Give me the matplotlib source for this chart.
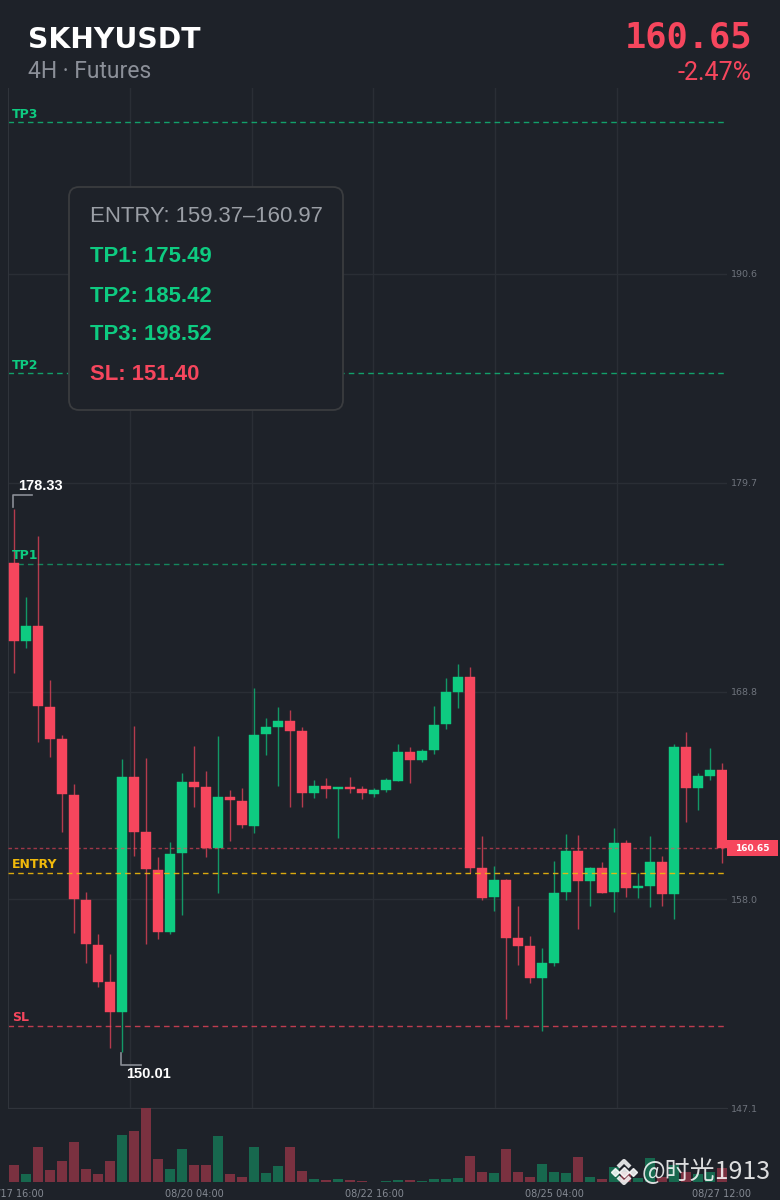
import matplotlib
matplotlib.use("Agg")
import matplotlib.pyplot as plt
from matplotlib.patches import FancyBboxPatch, Rectangle
import numpy as np

# ---- data ----
symbol = "SKHYUSDT"
subtitle = "4H · Futures"
last_price = 160.65
change_pct = -2.47

opens = [175.51, 171.46, 172.24, 168.03, 166.33, 163.42, 157.94, 155.60, 153.65, 152.12,
         164.35, 161.51, 159.51, 156.29, 160.38, 164.10, 163.84, 160.67, 163.33, 163.12,
         161.82, 166.59, 166.95, 167.28, 166.78, 163.51, 163.89, 163.73, 163.84, 163.73,
         163.47, 163.68, 164.17, 165.68, 165.25, 165.77, 167.12, 168.81, 169.56, 159.60,
         158.08, 158.99, 155.95, 155.57, 153.89, 154.64, 158.35, 160.50, 158.95, 159.60,
         158.35, 160.90, 158.55, 158.69, 159.91, 158.24, 165.94, 163.77, 164.43, 164.73]
highs = [178.33, 173.75, 176.93, 169.42, 166.55, 163.98, 158.35, 156.16, 155.11, 165.28,
         167.02, 165.37, 160.20, 160.95, 164.55, 165.98, 164.67, 166.50, 163.68, 163.77,
         168.99, 167.42, 168.03, 167.86, 166.99, 164.20, 164.32, 163.86, 164.38, 163.89,
         163.77, 164.29, 166.07, 165.91, 165.81, 168.06, 169.51, 170.26, 170.08, 161.28,
         159.72, 159.02, 157.63, 156.08, 155.46, 160.00, 161.39, 161.34, 159.65, 159.91,
         161.68, 161.07, 159.37, 161.28, 160.24, 166.07, 166.73, 164.55, 165.86, 165.08]
lows = [169.80, 171.11, 166.20, 165.42, 161.51, 156.24, 154.64, 153.42, 150.21, 150.01,
        160.26, 155.63, 155.89, 156.20, 157.16, 162.81, 160.20, 158.33, 161.04, 161.69,
        161.46, 165.51, 163.91, 162.78, 162.78, 163.25, 163.25, 161.19, 163.51, 163.20,
        163.33, 163.60, 164.17, 164.03, 165.13, 165.55, 166.86, 167.98, 159.37, 157.94,
        157.39, 151.74, 154.55, 153.60, 151.13, 154.50, 157.94, 156.42, 157.65, 158.30,
        157.30, 158.08, 158.03, 157.56, 157.65, 156.94, 162.04, 162.64, 164.20, 159.88]
closes = [171.46, 172.24, 168.08, 166.34, 163.46, 157.98, 155.63, 153.68, 152.12, 164.35,
          161.51, 159.55, 156.29, 160.34, 164.10, 163.85, 160.67, 163.33, 163.16, 161.84,
          166.55, 166.95, 167.28, 166.78, 163.51, 163.89, 163.73, 163.84, 163.73, 163.51,
          163.68, 164.20, 165.68, 165.25, 165.73, 167.07, 168.81, 169.56, 159.63, 158.06,
          158.99, 155.95, 155.57, 153.89, 154.64, 158.33, 160.50, 158.95, 159.60, 158.33,
          160.90, 158.55, 158.69, 159.91, 158.26, 165.94, 163.77, 164.43, 164.73, 160.65]
volumes = [17, 8, 34.7, 12, 21, 40, 12.7, 8, 21, 47,
           51, 74, 22.7, 12.7, 32.7, 17, 17, 46, 8.3, 5.3,
           34.7, 9.3, 16.3, 35.3, 11.3, 3.3, 1.7, 3, 1.7, 1,
           0.5, 1, 2, 2, 1, 2.7, 2.7, 4, 26.3, 9.7,
           9.3, 32.7, 9.7, 5.3, 18, 10, 9.3, 25.3, 4.7, 3,
           14.7, 10, 4, 24, 5, 17, 10, 8, 10, 14]

time_tick_idx = [0, 15, 30, 45, 59]
time_tick_labels = ["08/17 16:00", "08/20 04:00", "08/22 16:00", "08/25 04:00", "08/27 12:00"]
price_ticks = [147.1, 158.0, 168.8, 179.7, 190.6]

entry_low, entry_high = 159.37, 160.97
tp1, tp2, tp3 = 175.49, 185.42, 198.52
sl = 151.40

# ---- style ----
BG = "#1e2229"
GRID = "#2a2e35"
GREEN = "#0ecb81"
RED = "#f6465d"
YELLOW = "#f0b90b"
VOL_GREEN = "#17684e"
VOL_RED = "#7a3140"
AXIS_TXT = "#6e737c"

W, H = 780, 1200
fig = plt.figure(figsize=(W / 100, H / 100), dpi=100, facecolor=BG)

ax = fig.add_axes([8 / W, 92 / H, 719 / W, 1020 / H], facecolor=BG)
axv = fig.add_axes([8 / W, 18 / H, 719 / W, 74 / H], facecolor="none", sharex=ax)

n = len(opens)
x = np.arange(n)
o = np.array(opens); c = np.array(closes)
hi = np.array(highs); lo = np.array(lows)
up = c >= o
col = np.where(up, GREEN, RED)

ax.set_xlim(-0.5, 59.42)
ax.set_ylim(147.1, 200.30)

# grid
grid_x = [9.67, 19.83, 29.92, 40.08, 50.25]
for gx in grid_x:
    ax.axvline(gx, color=GRID, lw=1, zorder=0)
for py in price_ticks:
    ax.axhline(py, color=GRID, lw=1, zorder=0)

for s in ["top", "right"]:
    ax.spines[s].set_visible(False)
for s in ["left", "bottom"]:
    ax.spines[s].set_color("#30343b")
ax.yaxis.tick_right()
ax.set_yticks(price_ticks)
ax.set_yticklabels([f"{v:.1f}" for v in price_ticks])
ax.tick_params(axis="y", length=0, pad=3, labelsize=6.8, labelcolor=AXIS_TXT)
ax.tick_params(axis="x", length=0, labelbottom=False)

# candles
ax.vlines(x, lo, hi, colors=col, lw=1, alpha=0.7, zorder=2)
body = np.maximum(np.abs(c - o), 0.1)
ax.bar(x, body, bottom=np.minimum(o, c), width=0.82, color=col,
       edgecolor=col, lw=0.3, zorder=3)

# level lines
ax.axhline(tp3, color=GREEN, lw=1, ls=(0, (4, 3)), alpha=0.75, zorder=1)
ax.axhline(tp2, color=GREEN, lw=1, ls=(0, (4, 3)), alpha=0.75, zorder=1)
ax.axhline(tp1, color=GREEN, lw=1, ls=(0, (4, 3)), alpha=0.6, zorder=1)
ax.axhline(entry_low, color=YELLOW, lw=1, ls=(0, (4, 3)), alpha=0.9, zorder=4)
ax.axhline(sl, color=RED, lw=1, ls=(0, (4, 3)), alpha=0.75, zorder=1)
ax.axhline(last_price, color=RED, lw=1, ls=(0, (2.5, 2)), alpha=0.6, zorder=4)

for name, lvl, cl in [("TP3", tp3, GREEN), ("TP2", tp2, GREEN), ("TP1", tp1, GREEN),
                      ("ENTRY", entry_low, YELLOW), ("SL", sl, RED)]:
    ax.annotate(name, xy=(0.0056, lvl), xycoords=("axes fraction", "data"),
                xytext=(0, 5.8), textcoords="offset points", ha="left", va="center",
                color=cl, fontsize=9, fontweight="bold", zorder=5)

# high / low markers
px_x = (59.42 + 0.5) / 719
px_y = (200.30 - 147.1) / 1020
ih = int(np.argmax(hi)); il = int(np.argmin(lo))
hx, hy = x[ih], hi[ih]
ax.plot([hx - px_x, hx - px_x, hx + 18 * px_x], [hy + 2 * px_y, hy + 14 * px_y, hy + 14 * px_y],
        color="#8a8e96", lw=1.2, zorder=5)
ax.text(hx + 4 * px_x, hy + 23 * px_y, f"{hy:.2f}", color="white", fontsize=10.5,
        fontweight="bold", family="Liberation Sans", ha="left", va="center", zorder=6)
lx, ly = x[il], lo[il]
ax.plot([lx - px_x, lx - px_x, lx + 19 * px_x], [ly - 1 * px_y, ly - 13 * px_y, ly - 13 * px_y],
        color="#8a8e96", lw=1.2, zorder=5)
ax.text(lx + 4 * px_x, ly - 22 * px_y, f"{ly:.2f}", color="white", fontsize=10.5,
        fontweight="bold", family="Liberation Sans", ha="left", va="center", zorder=6)

# volume
vcol = np.where(up, VOL_GREEN, VOL_RED)
axv.bar(x, volumes, width=0.82, color=vcol)
axv.set_ylim(0, max(volumes))
axv.axis("off")
for i, lab in zip(time_tick_idx, time_tick_labels):
    axv.text(i, -12, lab, ha="center", va="center", fontsize=7, color="#858a93")

# overlay in pixel coordinates
ov = fig.add_axes([0, 0, 1, 1], facecolor="none", zorder=10)
ov.set_xlim(0, W); ov.set_ylim(H, 0); ov.axis("off")

ov.text(28, 40, symbol, color="white", fontsize=20.3, fontweight="bold",
        family="DejaVu Sans", ha="left", va="center")
ov.text(28, 72, subtitle, color="#8b8f98", fontsize=16.5, family="Roboto",
        ha="left", va="center")
ov.text(752, 38, f"{last_price:.2f}", color=RED, fontsize=25.5, fontweight="bold",
        family="DejaVu Sans Mono", ha="right", va="center")
ov.text(752, 73, f"{change_pct:.2f}%", color=RED, fontsize=18, family="Roboto",
        ha="right", va="center")

# current price tag
fig.canvas.draw()
y_disp = ax.transData.transform((0, last_price))[1]
ty = H - y_disp
ov.add_patch(Rectangle((727, ty - 8), 51, 16, color=RED, lw=0))
ov.text(752.5, ty, f"{last_price:.2f}", color="white", fontsize=6.5, fontweight="bold",
        ha="center", va="center")

# info box
ov.add_patch(FancyBboxPatch((69, 187), 274, 223, boxstyle="round,pad=0,rounding_size=10",
                            facecolor=BG, edgecolor="#3a3c3f", lw=1.3))
info = [(f"ENTRY: {entry_low:.2f}–{entry_high:.2f}", "#9b9fa6", "normal"),
        (f"TP1: {tp1:.2f}", GREEN, "bold"),
        (f"TP2: {tp2:.2f}", GREEN, "bold"),
        (f"TP3: {tp3:.2f}", GREEN, "bold"),
        (f"SL: {sl:.2f}", RED, "bold")]
for (txt, cl, wt), yy in zip(info, [217, 257, 296, 335, 375]):
    ov.text(90, yy, txt, color=cl, fontsize=15.9, fontweight=wt,
            family="Liberation Sans", ha="left", va="center")

# watermark
wc = (1, 1, 1, 0.85)
cx, cy = 624, 1172
ov.plot([cx], [cy], marker="D", ms=5, color=wc, lw=0)
ov.plot([cx - 9, cx + 9], [cy, cy], marker="D", ms=4, color=wc, lw=0)
ov.plot([cx - 6, cx, cx + 6], [cy - 5, cy - 11, cy - 5], color=wc, lw=3, solid_capstyle="butt")
ov.plot([cx - 6, cx, cx + 6], [cy + 5, cy + 11, cy + 5], color=wc, lw=3, solid_capstyle="butt")
ov.text(642, 1172, "@时光1913", color=wc, fontsize=18,
        family=["Noto Sans CJK SC", "DejaVu Sans"], ha="left", va="center")

fig.savefig("out.png", dpi=100, facecolor=BG)
